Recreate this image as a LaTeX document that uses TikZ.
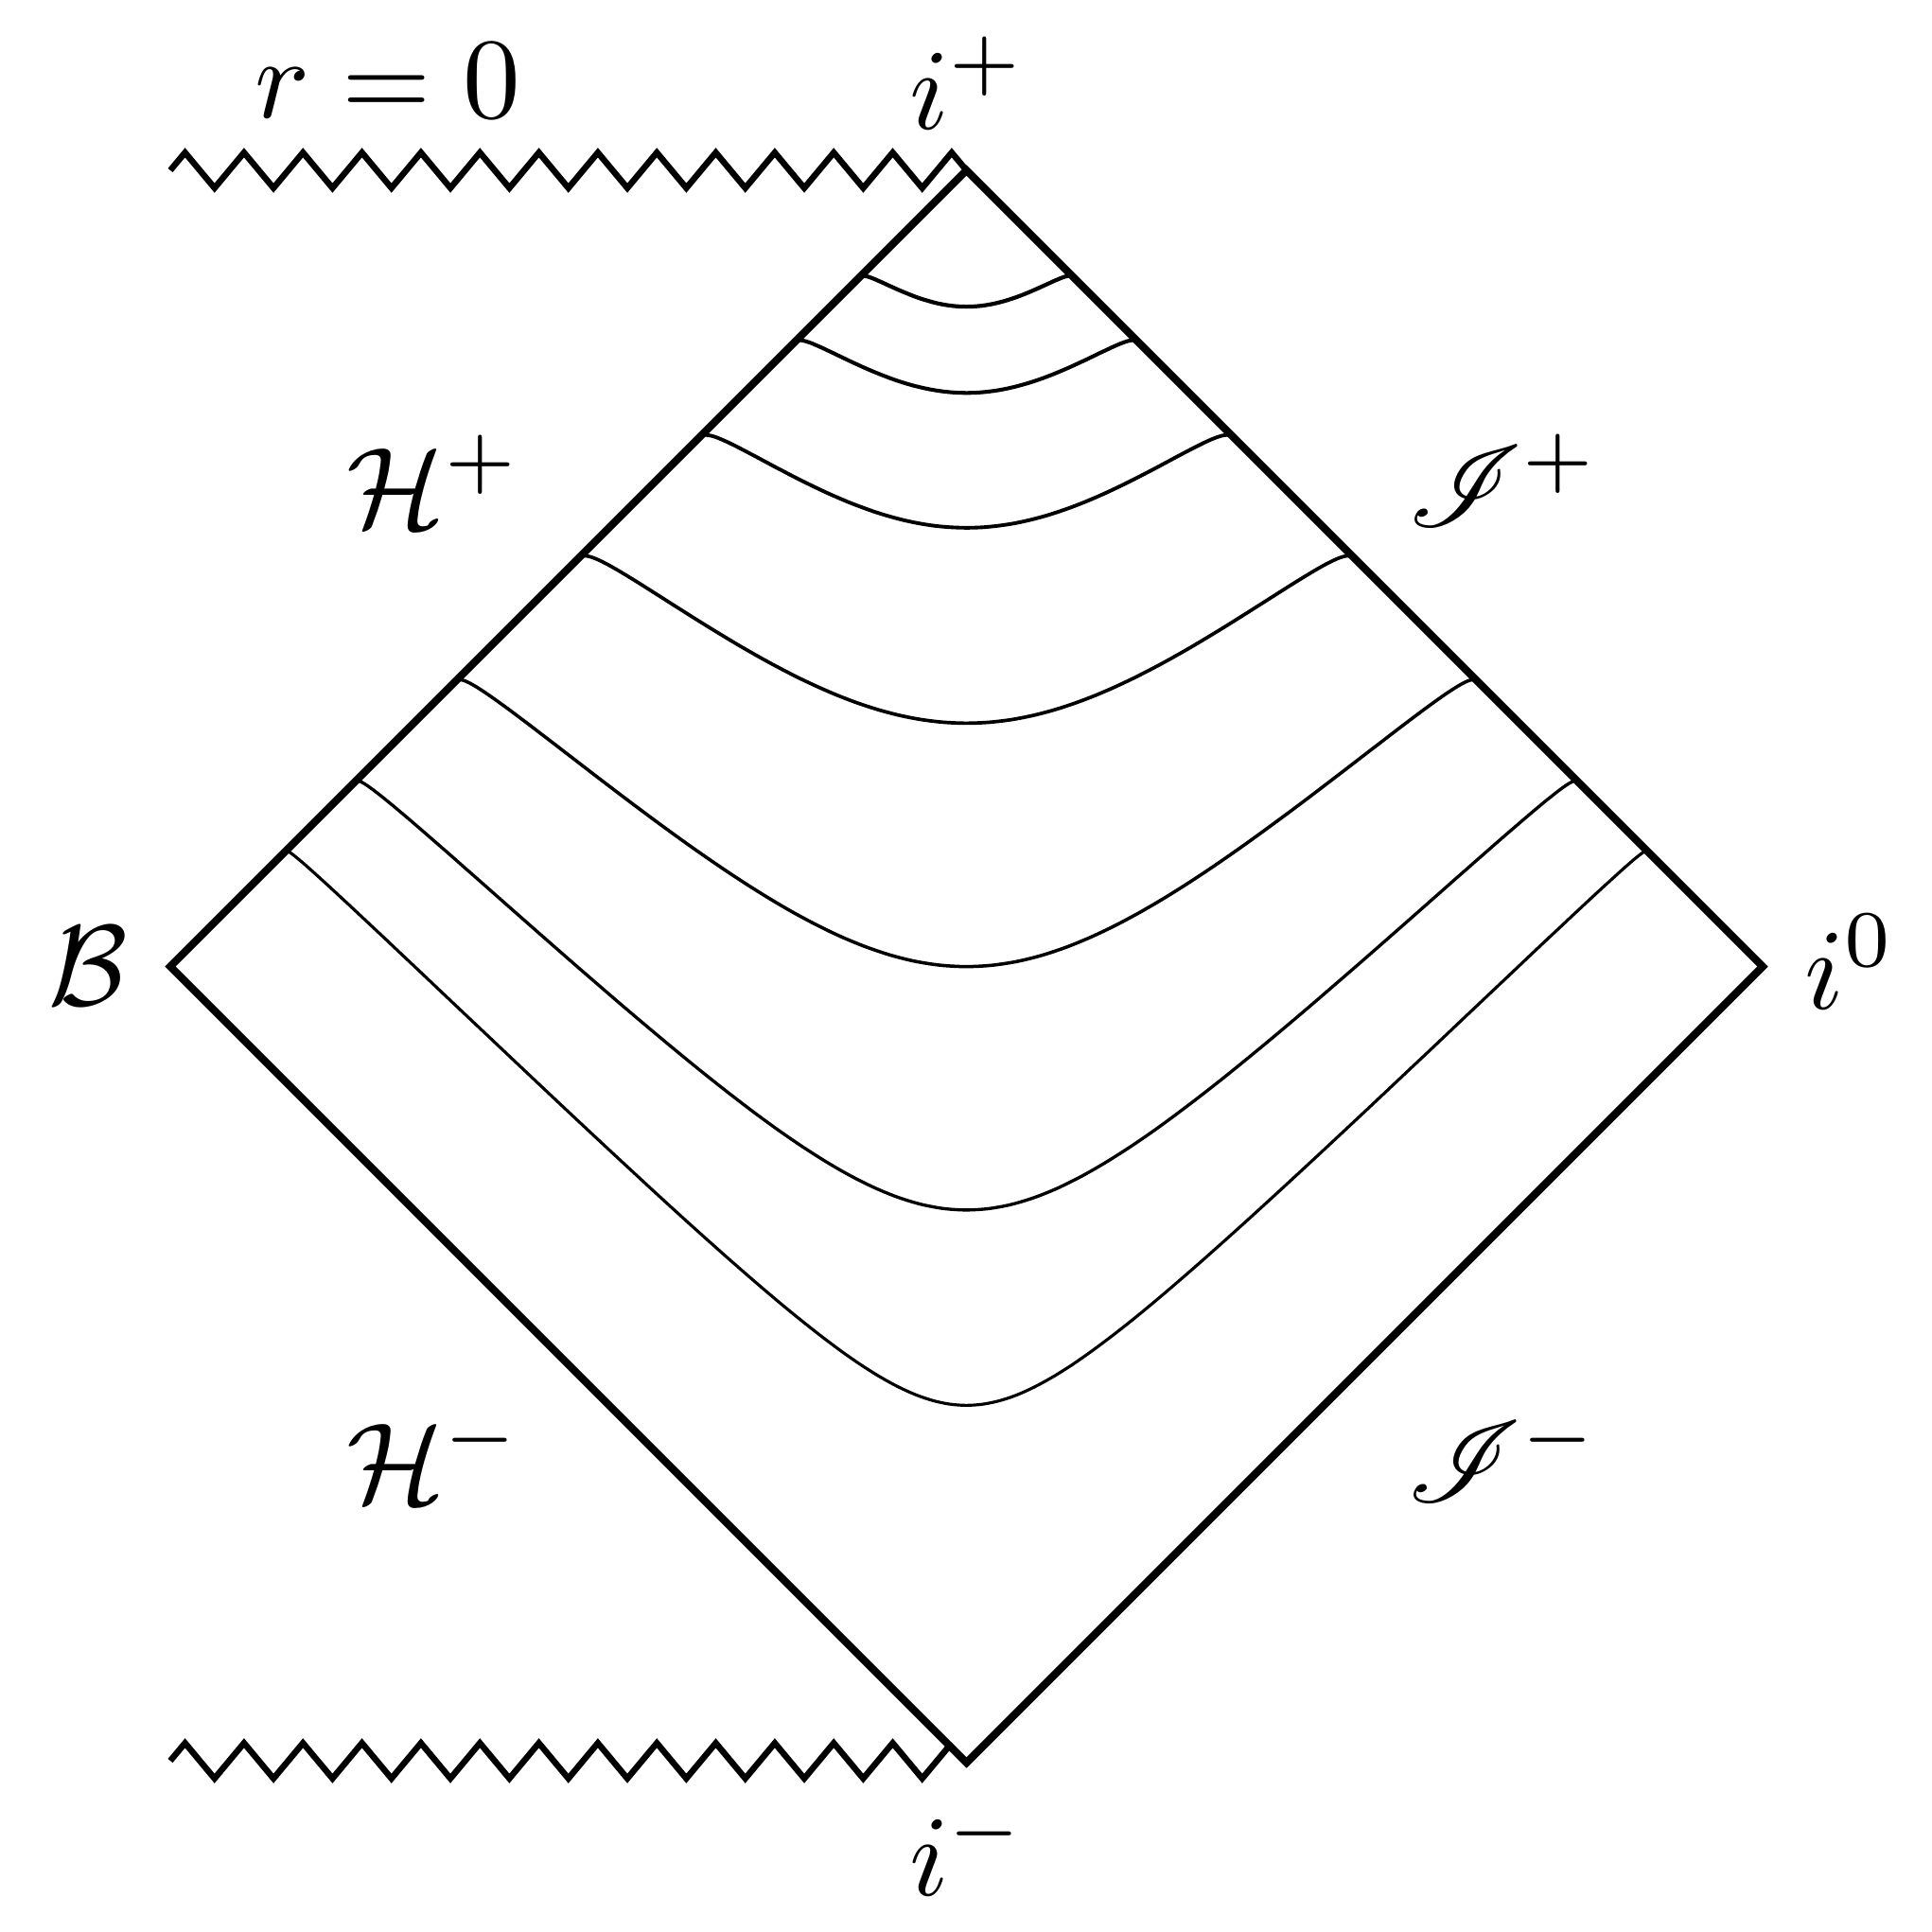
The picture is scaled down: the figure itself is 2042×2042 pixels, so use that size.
\documentclass[tikz,border=0pt]{standalone}
\usepackage{amssymb}
\usepackage{mathrsfs}
\begin{document}
\begin{tikzpicture}[x=0.01cm, y=-0.01cm,
  lab/.style={scale=3.45, inner sep=0pt, anchor=base},
  frame/.style={line width=2.3pt, line join=miter},
  zz/.style={line width=1.85pt, line join=miter},
  slice/.style={line width=#1}]
\useasboundingbox (0,0) rectangle (2042,2042);
% diamond corners
\coordinate (top) at (1021.5,180);
\coordinate (right) at (1863,1021.5);
\coordinate (bottom) at (1021.5,1863);
\coordinate (left) at (180,1021.5);
% slices t = tau + sqrt(r*^2 + a^2), compactified with gd
\foreach \ta/\lw in {1.515/1.2pt, 1.015/1.15pt, 0.515/1.1pt, 0.015/1.05pt, -0.485/1.0pt, -0.985/0.95pt, -1.485/0.9pt}{
  \pgfmathsetmacro\gd{2*atan(exp(\ta))-90}
  \draw[slice=\lw] ({1021.5+4.675*(\gd-90)},{1021.5-4.675*(\gd+90)})
   -- plot[domain=-6:6, samples=241, smooth, variable=\s]
   ({1021.5+9.35*(atan(exp(-(\ta+sqrt((\s)*(\s)+0.235)-(\s)))) - atan(exp(-(\ta+sqrt((\s)*(\s)+0.235)+(\s)))))},
    {1021.5-4.675*(180-2*atan(exp(-(\ta+sqrt((\s)*(\s)+0.235)-(\s))))-2*atan(exp(-(\ta+sqrt((\s)*(\s)+0.235)+(\s)))))})
   -- ({1021.5+4.675*(90-\gd)},{1021.5-4.675*(90+\gd)});
}
% diamond
\draw[frame] (top) -- (right) -- (bottom) -- (left) -- cycle;
% singularities
\draw[zz] (180,180) \foreach \k in {1,...,13}{ -- ++(15.58,-18.7) -- ++(31.17,37.4) -- ++(15.58,-18.7)} -- ++(15.58,-18.7) -- (top);
\draw[zz] (180,1861) \foreach \k in {1,...,13}{ -- ++(15.58,-18.7) -- ++(31.17,37.4) -- ++(15.58,-18.7)} -- ++(15.58,-18.7);
% labels
\node[lab] (r0) at (410,124) {$r=0$};
\node[lab] (ip) at (1023,136) {$i^+$};
\node[lab] (Hp) at (459,557) {$\mathcal{H}^+$};
\node[lab] (Sp) at (1589,556) {$\mathscr{I}^+$};
\node[lab] (Hm) at (459,1588) {$\mathcal{H}^-$};
\node[lab] (Sm) at (1589,1587) {$\mathscr{I}^-$};
\node[lab] (B) at (93,1062) {$\mathcal{B}$};
\node[lab] (i0) at (1956,1066) {$i^0$};
\node[lab] (im) at (1023,2003) {$i^-$};
\end{tikzpicture}
\end{document}
